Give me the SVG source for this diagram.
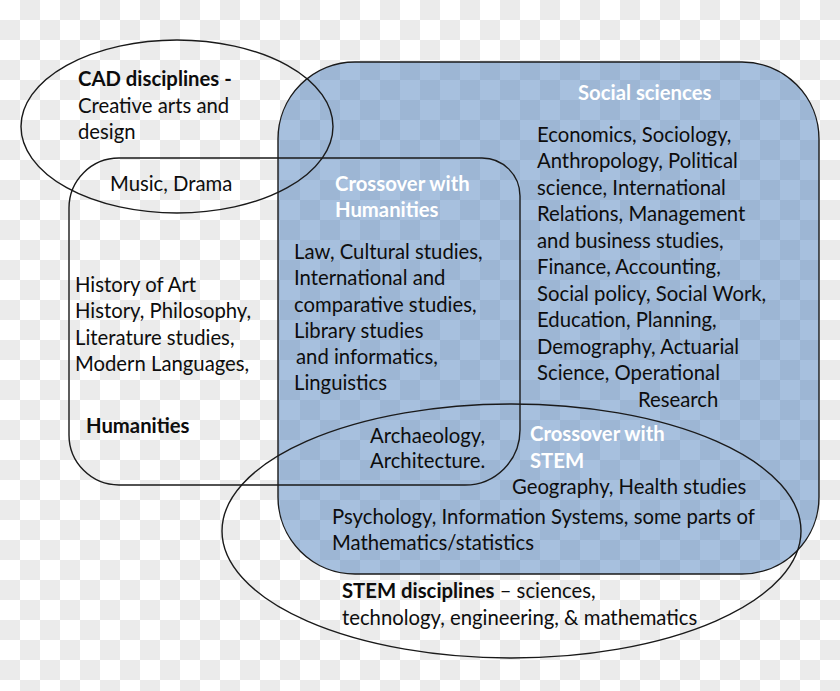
<svg xmlns="http://www.w3.org/2000/svg" width="840" height="691" viewBox="0 0 840 691">
<defs>
<pattern id="checker" x="0" y="0" width="40" height="40" patternUnits="userSpaceOnUse">
<rect width="40" height="40" fill="#ffffff"/>
<rect x="20" y="0" width="20" height="20" fill="#ebebeb"/>
<rect x="0" y="20" width="20" height="20" fill="#ebebeb"/>
</pattern>
<style>
.outline{fill:none;stroke:#1a1a1a;stroke-width:1.4}
.blue{fill:#4f81bd;fill-opacity:0.5;stroke:#1a1a1a;stroke-width:1.4}
text{font-family:Lato,"Liberation Sans",sans-serif;font-size:20.3px;fill:#0d0d0d}
.b{font-weight:bold}
.w{fill:#ffffff;font-weight:bold}
</style>
</defs>
<rect width="840" height="691" fill="url(#checker)"/>
<g id="social-sciences">
<rect class="blue" x="278" y="62" width="541" height="512" rx="77" ry="77"/>
<text class="w" x="578" y="100">Social sciences</text>
<text x="537" y="141.5">Economics, Sociology,</text>
<text x="537" y="168">Anthropology, Political</text>
<text x="537" y="194.5">science, International</text>
<text x="537" y="221">Relations, Management</text>
<text x="537" y="247.5">and business studies,</text>
<text x="537" y="274">Finance, Accounting,</text>
<text x="537" y="300.5">Social policy, Social Work,</text>
<text x="537" y="327">Education, Planning,</text>
<text x="537" y="353.5">Demography, Actuarial</text>
<text x="537" y="380">Science, Operational</text>
<text x="638" y="406.5">Research</text>
</g>
<g id="cad">
<ellipse class="outline" cx="177" cy="126.5" rx="156" ry="86.5"/>
<text class="b" x="78" y="86">CAD disciplines -</text>
<text x="78" y="113">Creative arts and</text>
<text x="78" y="139">design</text>
<text x="110" y="191">Music, Drama</text>
</g>
<g id="humanities">
<path class="outline" d="M119,158 H482 A38,38 0 0 1 520,196 V430 A55,55 0 0 1 465,485 H119 A50,50 0 0 1 69,435 V208 A50,50 0 0 1 119,158 Z"/>
<text x="75" y="292">History of Art</text>
<text x="75" y="318">History, Philosophy,</text>
<text x="75" y="345">Literature studies,</text>
<text x="75" y="371">Modern Languages,</text>
<text class="b" x="86" y="433">Humanities</text>
<text class="w" x="335" y="191">Crossover with</text>
<text class="w" x="335" y="217">Humanities</text>
<text x="294" y="259">Law, Cultural studies,</text>
<text x="294" y="285">International and</text>
<text x="294" y="312">comparative studies,</text>
<text x="294" y="338">Library studies</text>
<text x="296" y="364">and informatics,</text>
<text x="294" y="390">Linguistics</text>
<text x="370" y="442.5">Archaeology,</text>
<text x="370" y="468">Architecture.</text>
</g>
<g id="stem">
<ellipse class="outline" cx="511.5" cy="531" rx="289.5" ry="127"/>
<text class="w" x="530" y="441">Crossover with</text>
<text class="w" x="530" y="468">STEM</text>
<text x="512" y="494">Geography, Health studies</text>
<text x="332" y="524">Psychology, Information Systems, some parts of</text>
<text x="332" y="550">Mathematics/statistics</text>
<text x="342" y="598"><tspan class="b">STEM disciplines</tspan> – sciences,</text>
<text x="342" y="625">technology, engineering, &amp; mathematics</text>
</g>
<g id="connectors"/>
</svg>
